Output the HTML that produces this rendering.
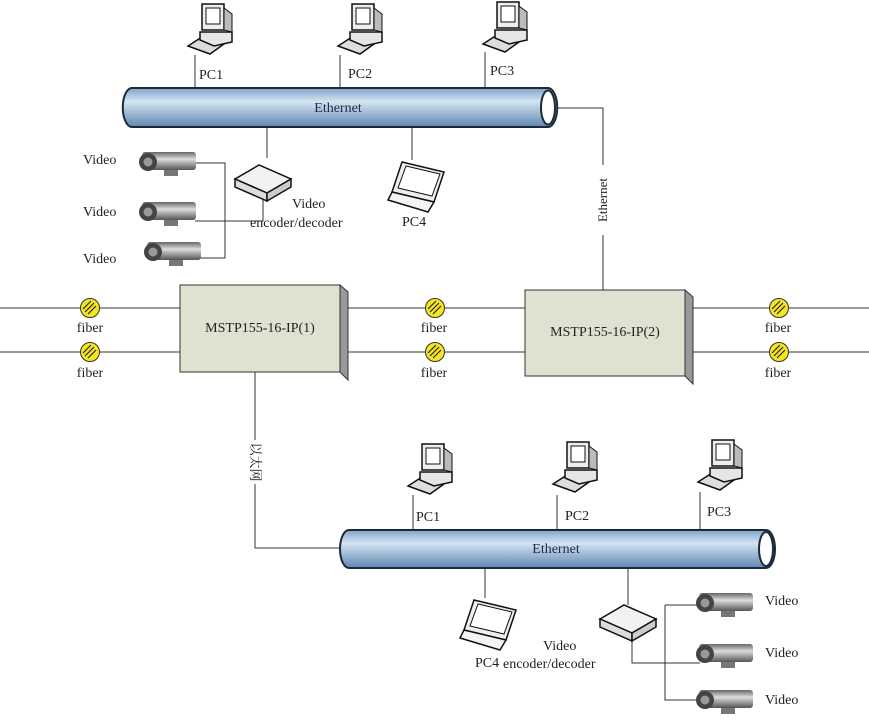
<!DOCTYPE html>
<html><head><meta charset="utf-8"><style>body{margin:0;background:#fff}svg{display:block}text{font-family:"Liberation Serif","Noto Serif CJK SC",serif;font-size:14px;fill:#222}</style></head><body>
<svg width="869" height="723" viewBox="0 0 869 723" xmlns="http://www.w3.org/2000/svg">
<defs>
<linearGradient id="pipe" x1="0" y1="0" x2="0" y2="1"><stop offset="0" stop-color="#7fa4c8"/><stop offset="0.35" stop-color="#d4e3f1"/><stop offset="1" stop-color="#5f87b0"/></linearGradient>
<linearGradient id="cam" x1="0" y1="0" x2="0" y2="1"><stop offset="0" stop-color="#666"/><stop offset="0.4" stop-color="#ddd"/><stop offset="1" stop-color="#555"/></linearGradient>
<g id="pc"><polygon points="8,44 30,52 44,42 22,35" fill="#ddd" stroke="#111" stroke-width="1.5"/><rect x="22" y="2" width="22" height="26" fill="#eee" stroke="#111" stroke-width="1.5"/><rect x="26" y="6" width="14" height="16" fill="#fff" stroke="#111"/><polygon points="20,30 52,30 52,40 34,44 20,38" fill="#e6e6e6" stroke="#111" stroke-width="1.5"/><polygon points="44,6 52,12 52,30 44,28" fill="#bbb" stroke="#111"/></g>
<g id="lap"><polygon points="14,2 56,12 46,42 4,32" fill="#eee" stroke="#111" stroke-width="1.5"/><polygon points="18,6 52,14 44,36 10,28" fill="#fff" stroke="#111"/><polygon points="4,32 46,42 40,52 0,40" fill="#f4f4f4" stroke="#111" stroke-width="1.5"/></g>
<g id="enc"><polygon points="0,14 24,0 56,14 32,28" fill="#f2f2f2" stroke="#111" stroke-width="1.5"/><polygon points="0,14 32,28 32,36 0,22" fill="#ddd" stroke="#111" stroke-width="1.5"/><polygon points="32,28 56,14 56,22 32,36" fill="#ccc" stroke="#111" stroke-width="1.5"/></g>
<g id="camr"><rect x="4" y="2" width="54" height="18" rx="3" fill="url(#cam)"/><circle cx="10" cy="12" r="9" fill="#444"/><circle cx="10" cy="12" r="4.5" fill="#999"/><rect x="26" y="20" width="14" height="6" fill="#777"/></g>
<g id="fib"><circle r="9.5" fill="#f5e620" stroke="#333"/><path d="M-5,4 L4,-5 M-2,6 L6,-2 M-7,1 L1,-7" stroke="#222" stroke-width="1.2"/></g>
</defs>
<g stroke="#333" stroke-width="1" fill="none">
<path d="M195,55V88M340,55V88M485,52V88M267,127V158M412,127V160M557,108H603V290"/>
<path d="M195,163H225V258H195M195,221H263V200"/>
<path d="M0,308H180M0,352H180M348,308H525M348,352H525M693,308H869M693,352H869"/>
<path d="M255,372V548H340M413,495V530M557,495V530M700,492V530M485,568V598M628,568V605M632,633V663H700M665,605H700M665,605V700H700"/>
</g>
<g stroke="#1a2a3a" stroke-width="2">
<path d="M132,88H548A9,19 0 0 1 548,127H132A9,19 0 0 1 132,88Z" fill="url(#pipe)"/>
<ellipse cx="548" cy="107.5" rx="7" ry="17" fill="#fff"/>
<path d="M349,530H766A9,19 0 0 1 766,568H349A9,19 0 0 1 349,530Z" fill="url(#pipe)"/>
<ellipse cx="766" cy="549" rx="7" ry="17" fill="#fff"/>
</g>
<text x="338" y="112" text-anchor="middle" style="fill:#1c2c4a">Ethernet</text>
<text x="556" y="553" text-anchor="middle" style="fill:#1c2c4a">Ethernet</text>
<use href="#pc" x="180" y="2"/><use href="#pc" x="330" y="2"/><use href="#pc" x="475" y="0"/>
<use href="#pc" x="400" y="442"/><use href="#pc" x="545" y="440"/><use href="#pc" x="690" y="438"/>
<text x="199" y="79">PC1</text><text x="348" y="78">PC2</text><text x="490" y="75">PC3</text>
<text x="416" y="521">PC1</text><text x="565" y="520">PC2</text><text x="707" y="516">PC3</text>
<use href="#lap" x="388" y="160"/><use href="#lap" x="460" y="598"/>
<text x="402" y="226">PC4</text><text x="475" y="667">PC4</text>
<use href="#enc" x="235" y="165"/><use href="#enc" x="600" y="605"/>
<text x="292" y="208">Video</text><text x="250" y="227">encoder/decoder</text>
<text x="543" y="650">Video</text><text x="503" y="668">encoder/decoder</text>
<use href="#camr" x="138" y="150"/><use href="#camr" x="138" y="200"/><use href="#camr" x="143" y="240"/>
<use href="#camr" x="695" y="591"/><use href="#camr" x="695" y="642"/><use href="#camr" x="695" y="688"/>
<text x="83" y="164">Video</text><text x="83" y="216">Video</text><text x="83" y="263">Video</text>
<text x="765" y="605">Video</text><text x="765" y="657">Video</text><text x="765" y="704">Video</text>
<polygon points="340,285 348,292 348,380 340,372" fill="#999" stroke="#333"/>
<rect x="180" y="285" width="160" height="87" fill="#dde3d0" stroke="#333"/>
<text x="260" y="332" text-anchor="middle">MSTP155-16-IP(1)</text>
<polygon points="685,290 693,297 693,384 685,376" fill="#999" stroke="#333"/>
<rect x="525" y="290" width="160" height="86" fill="#dde3d0" stroke="#333"/>
<text x="605" y="336" text-anchor="middle">MSTP155-16-IP(2)</text>
<use href="#fib" x="90" y="308"/><use href="#fib" x="90" y="352"/><use href="#fib" x="435" y="308"/><use href="#fib" x="435" y="352"/><use href="#fib" x="779" y="308"/><use href="#fib" x="779" y="352"/>
<text x="90" y="332" text-anchor="middle">fiber</text><text x="90" y="377" text-anchor="middle">fiber</text>
<text x="434" y="332" text-anchor="middle">fiber</text><text x="434" y="377" text-anchor="middle">fiber</text>
<text x="778" y="332" text-anchor="middle">fiber</text><text x="778" y="377" text-anchor="middle">fiber</text>
<rect x="597" y="165" width="12" height="70" fill="#fff"/>
<text transform="translate(607,200) rotate(-90)" text-anchor="middle" style="font-size:13px">Ethernet</text>
<rect x="249" y="440" width="12" height="44" fill="#fff"/>
<text transform="translate(251,462) rotate(90)" text-anchor="middle" style="font-size:13px">以太网</text>
</svg>
</body></html>
